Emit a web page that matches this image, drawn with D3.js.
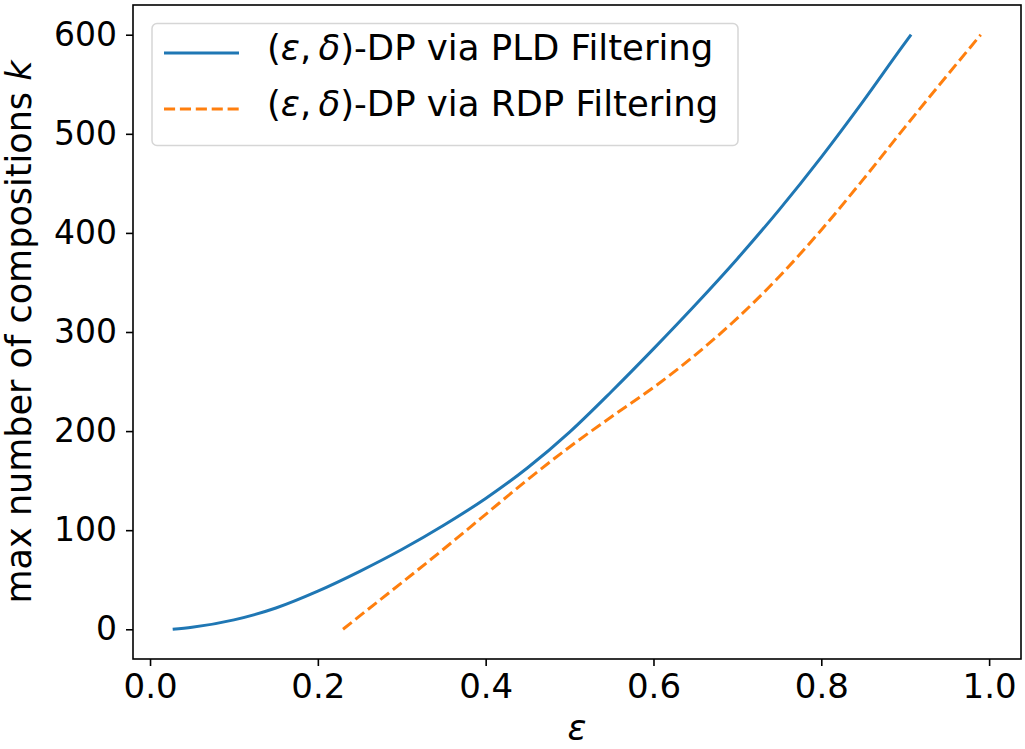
<!DOCTYPE html>
<html>
<head>
<meta charset="utf-8">
<script src="https://cdn.jsdelivr.net/npm/d3@7"></script>
<style>
  body { margin: 0; background: #fff; }
  text { font-family: "DejaVu Sans", sans-serif; fill: #000; }
</style>
</head>
<body>
<svg id="chart" width="1025" height="749"></svg>
<script>
// values
const pldEps = [0.027, 0.05, 0.1, 0.15, 0.2, 0.25, 0.3, 0.35, 0.4, 0.45, 0.5, 0.55, 0.6, 0.65, 0.7, 0.75, 0.8, 0.85, 0.9, 0.907];
const pldK   = [0, 2, 9.5, 21.5, 38.5, 58.5, 80.5, 105, 132, 163, 199, 240, 283, 327.5, 374, 423.5, 476.5, 533, 592, 600];
const rdpEps = [0.230, 0.25, 0.3, 0.35, 0.4, 0.45, 0.5, 0.55, 0.6, 0.65, 0.7, 0.75, 0.8, 0.85, 0.9, 0.95, 0.99];
const rdpK   = [0, 13.5, 47, 81, 116, 151, 184, 214.5, 244, 277, 314, 356, 403, 454, 507, 559, 600];
const xTicks = [0.0, 0.2, 0.4, 0.6, 0.8, 1.0];
const yTicks = [0, 100, 200, 300, 400, 500, 600];
const seriesNames = ["PLD", "RDP"];

const svg = d3.select("#chart");
const plotL = 133, plotR = 1021, plotT = 5, plotB = 659;

const x = d3.scaleLinear().domain([-0.0203, 1.038]).range([plotL, plotR]);
const y = d3.scaleLinear().domain([-30, 630]).range([plotB, plotT]);

const series = [
  { name: seriesNames[0], pts: pldEps.map((e, i) => [e, pldK[i]]), color: "#1f77b4", dash: null },
  { name: seriesNames[1], pts: rdpEps.map((e, i) => [e, rdpK[i]]), color: "#ff7f0e", dash: "11.1,4.8" }
];

const line = d3.line()
  .x(d => x(d[0]))
  .y(d => y(d[1]))
  .curve(d3.curveMonotoneX);

series.forEach(s => {
  svg.append("path")
    .attr("d", line(s.pts))
    .attr("fill", "none")
    .attr("stroke", s.color)
    .attr("stroke-width", 3)
    .attr("stroke-dasharray", s.dash);
});

// axes
const xAxis = d3.axisBottom(x).tickValues(xTicks).tickFormat(d3.format(".1f")).tickSize(7).tickPadding(8);
const yAxis = d3.axisLeft(y).tickValues(yTicks).tickFormat(d3.format("d")).tickSize(7).tickPadding(9);

const gx = svg.append("g").attr("transform", `translate(0,${plotB})`).call(xAxis);
const gy = svg.append("g").attr("transform", `translate(${plotL},0)`).call(yAxis);
[gx, gy].forEach(g => {
  g.select(".domain").remove();
  g.selectAll(".tick line").attr("stroke", "#000").attr("stroke-width", 1.6);
  g.selectAll(".tick text").style("font-size", "33px").attr("fill", "#000");
});
gx.selectAll(".tick text").style("font-size", "34px").attr("dy", "0.72em");

// frame
svg.append("rect")
  .attr("x", plotL).attr("y", plotT)
  .attr("width", plotR - plotL).attr("height", plotB - plotT)
  .attr("fill", "none").attr("stroke", "#000").attr("stroke-width", 1.6);

// axis labels
svg.append("text")
  .attr("x", (plotL + plotR) / 2).attr("y", 740)
  .attr("text-anchor", "middle")
  .style("font-size", "35px").style("font-style", "italic")
  .text("ε");

const yl = svg.append("text")
  .attr("transform", `translate(31,${(plotT + plotB) / 2}) rotate(-90)`)
  .attr("text-anchor", "middle")
  .style("font-size", "35px");
yl.append("tspan").text("max number of compositions ");
yl.append("tspan").style("font-style", "italic").text("k");

// legend
const legend = svg.append("g");
legend.append("rect")
  .attr("x", 152).attr("y", 23.5).attr("width", 586).attr("height", 122)
  .attr("rx", 5)
  .attr("fill", "#fff").attr("fill-opacity", 0.8)
  .attr("stroke", "#d6d6d6").attr("stroke-width", 1.5);

const legendLabels = ["PLD Filtering", "RDP Filtering"];
series.forEach((s, i) => {
  const ly = 53 + i * 56;
  legend.append("line")
    .attr("x1", 164).attr("x2", 239).attr("y1", ly).attr("y2", ly)
    .attr("stroke", s.color).attr("stroke-width", 3)
    .attr("stroke-dasharray", s.dash);
  const t = legend.append("text")
    .attr("x", 267).attr("y", ly + 7)
    .style("font-size", "35.5px");
  t.append("tspan").text("(");
  t.append("tspan").style("font-style", "italic").text("ε");
  t.append("tspan").text(",\u2009");
  t.append("tspan").style("font-style", "italic").text("δ");
  t.append("tspan").text(")-DP via " + legendLabels[i]);
});
</script>
</body>
</html>
